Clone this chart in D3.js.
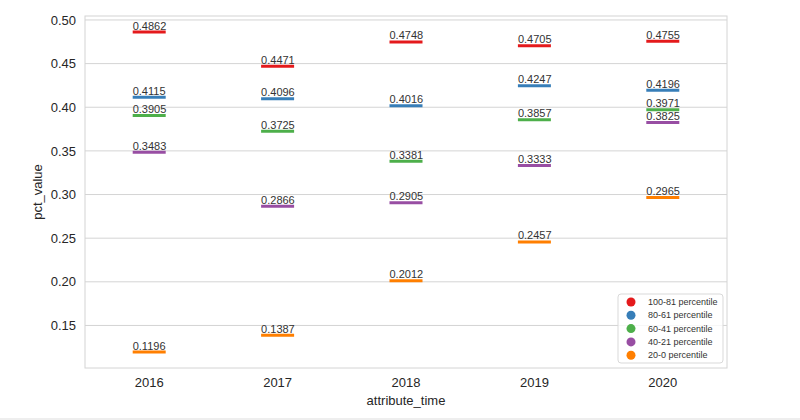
<!DOCTYPE html>
<html>
<head>
<meta charset="utf-8">
<script src="https://cdn.jsdelivr.net/npm/d3@7"></script>
<style>
body { margin: 0; background: #fff; }
text { font-family: "Liberation Sans", Arial, sans-serif; }
</style>
</head>
<body>
<script>
var width = 800, height = 420;

var years = ["2016", "2017", "2018", "2019", "2020"];
var groups = ["100-81 percentile", "80-61 percentile", "60-41 percentile", "40-21 percentile", "20-0 percentile"];
var colors = ["#e41a1c", "#377eb8", "#4daf4a", "#984ea3", "#ff7f00"];
var p100 = [0.4862, 0.4471, 0.4748, 0.4705, 0.4755];
var p80 = [0.4115, 0.4096, 0.4016, 0.4247, 0.4196];
var p60 = [0.3905, 0.3725, 0.3381, 0.3857, 0.3971];
var p40 = [0.3483, 0.2866, 0.2905, 0.3333, 0.3825];
var p20 = [0.1196, 0.1387, 0.2012, 0.2457, 0.2965];
var yTicks = [0.15, 0.20, 0.25, 0.30, 0.35, 0.40, 0.45, 0.50];

var series = [p100, p80, p60, p40, p20];

// flat list of points for drawing
var points = [];
series.forEach(function(vals, g) {
  vals.forEach(function(v, i) {
    points.push({year: years[i], value: v, group: g});
  });
});

// plot box (window.top is reserved, so plain names)
var pLeft = 85, pRight = 727, pTop = 16, pBottom = 368;

var svg = d3.select("body").append("svg")
  .attr("width", width)
  .attr("height", height);

// light strip at the bottom of the screenshot
svg.append("rect")
  .attr("x", 0).attr("y", 418)
  .attr("width", width).attr("height", 2)
  .attr("fill", "#eeeeee");

var x = d3.scaleBand().domain(years).range([pLeft, pRight]);

var ext = d3.extent(points, function(d) { return d.value; });
var pad = (ext[1] - ext[0]) * 0.05;
var y = d3.scaleLinear().domain([ext[0] - pad, ext[1] + pad]).range([pBottom, pTop]);

// grid
svg.append("g")
  .selectAll("line")
  .data(yTicks)
  .join("line")
  .attr("x1", pLeft).attr("x2", pRight)
  .attr("y1", function(d) { return y(d); })
  .attr("y2", function(d) { return y(d); })
  .attr("stroke", "#d4d4d4")
  .attr("stroke-width", 1);

// frame
svg.append("rect")
  .attr("x", pLeft).attr("y", pTop)
  .attr("width", pRight - pLeft).attr("height", pBottom - pTop)
  .attr("fill", "none")
  .attr("stroke", "#d4d4d4")
  .attr("stroke-width", 1);

// axes
var yAxis = svg.append("g")
  .attr("transform", "translate(" + pLeft + ",0)")
  .call(d3.axisLeft(y).tickValues(yTicks).tickFormat(d3.format(".2f")).tickSize(0).tickPadding(9));
yAxis.select(".domain").remove();
yAxis.selectAll("text")
  .attr("fill", "#262626")
  .style("font-size", "13px")
  .style("font-family", "Liberation Sans, Arial, sans-serif");

var xAxis = svg.append("g")
  .attr("transform", "translate(0," + pBottom + ")")
  .call(d3.axisBottom(x).tickSize(0).tickPadding(10));
xAxis.select(".domain").remove();
xAxis.selectAll("text")
  .attr("fill", "#262626")
  .style("font-size", "13px")
  .style("font-family", "Liberation Sans, Arial, sans-serif");

svg.append("text")
  .attr("x", (pLeft + pRight) / 2)
  .attr("y", 405)
  .attr("text-anchor", "middle")
  .attr("fill", "#262626")
  .style("font-size", "13px")
  .text("attribute_time");

svg.append("text")
  .attr("transform", "translate(42," + (pTop + pBottom) / 2 + ") rotate(-90)")
  .attr("text-anchor", "middle")
  .attr("fill", "#262626")
  .style("font-size", "13px")
  .text("pct_value");

// marks
var half = 16.5;
svg.append("g")
  .selectAll("line")
  .data(points)
  .join("line")
  .attr("x1", function(d) { return x(d.year) + x.bandwidth() / 2 - half; })
  .attr("x2", function(d) { return x(d.year) + x.bandwidth() / 2 + half; })
  .attr("y1", function(d) { return y(d.value); })
  .attr("y2", function(d) { return y(d.value); })
  .attr("stroke", function(d) { return colors[d.group]; })
  .attr("stroke-width", 3);

svg.append("g")
  .selectAll("text")
  .data(points)
  .join("text")
  .attr("x", function(d) { return x(d.year) + x.bandwidth() / 2 - half; })
  .attr("y", function(d) { return y(d.value) - 2.5; })
  .attr("fill", "#333333")
  .style("font-size", "11px")
  .text(function(d) { return d.value.toFixed(4); });

// legend
var legend = svg.append("g");
legend.append("rect")
  .attr("x", 618).attr("y", 294)
  .attr("width", 105).attr("height", 69)
  .attr("rx", 3)
  .attr("fill", "#ffffff")
  .attr("fill-opacity", 0.8)
  .attr("stroke", "#d9d9d9");

var items = legend.selectAll("g")
  .data(groups)
  .join("g")
  .attr("transform", function(d, i) { return "translate(631," + (302 + i * 13.3) + ")"; });
items.append("circle")
  .attr("r", 4.5)
  .attr("fill", function(d, i) { return colors[i]; });
items.append("text")
  .attr("x", 17)
  .attr("y", 3)
  .attr("fill", "#333333")
  .style("font-size", "9px")
  .text(function(d) { return d; });
</script>
</body>
</html>
